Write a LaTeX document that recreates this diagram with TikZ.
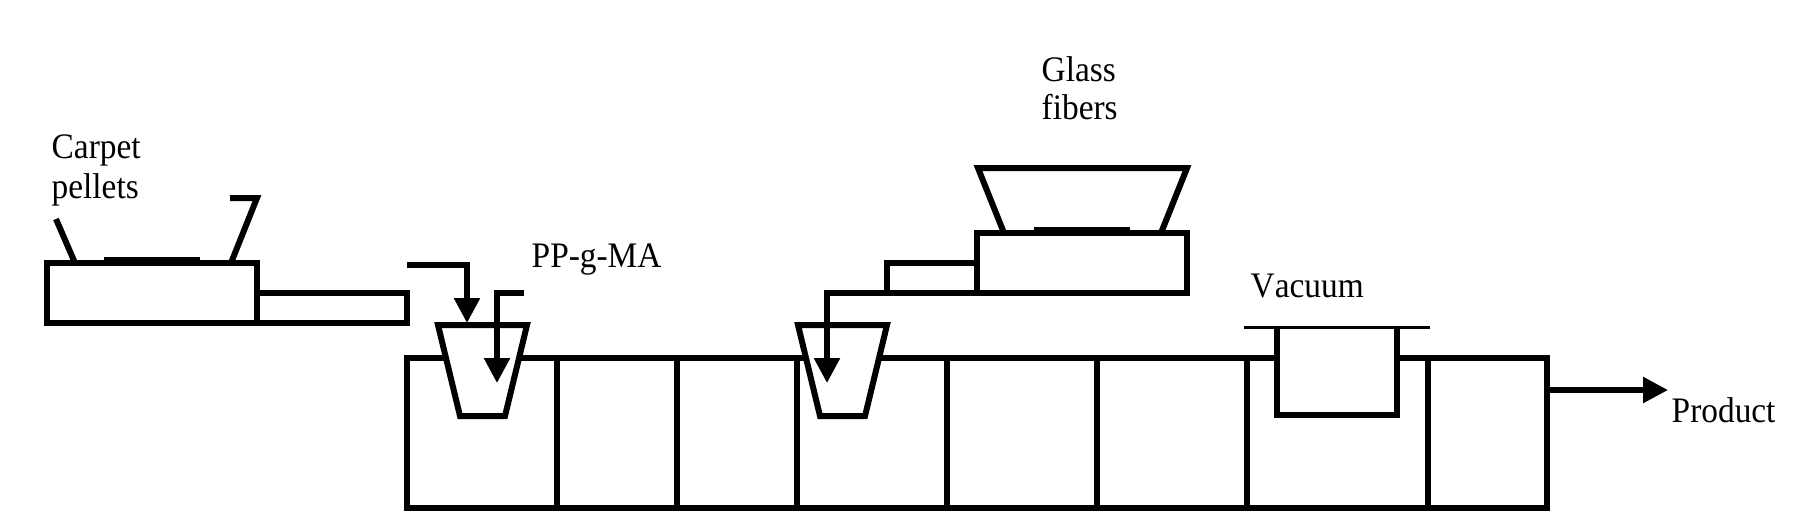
\documentclass[tikz,border=0pt]{standalone}
\usepackage{fontspec}
\setmainfont[FakeStretch=0.93,Kerning=Off]{Liberation Serif}
\usetikzlibrary{arrows.meta}
\tikzset{
  wall/.style={line width=0.6mm,line join=miter},
  feed/.style={line width=0.55mm,-{Triangle[length=2.5mm,width=2.5mm]}},
  lbl/.style={inner sep=0pt,anchor=base west,font=\fontsize{10.2pt}{12pt}\selectfont}
}
\begin{document}
\begin{tikzpicture}[x=0.01cm,y=-0.01cm]
  \useasboundingbox (0,0) rectangle (1795,529);
  % extruder
  \draw[wall] (407,358) rectangle (1547,508);
  \foreach \x in {557,677,797,947,1097,1247,1428}
    \draw[wall] (\x,358) -- (\x,508);
  % side feeders
  \draw[wall,fill=white] (438,325) -- (527,325) -- (505,416) -- (460,416) -- cycle;
  \draw[wall,fill=white] (798,325) -- (887,325) -- (865,416) -- (820,416) -- cycle;
  % vacuum port
  \draw[line width=0.3mm] (1244,327) -- (1430,327);
  \fill[white] (1277,340) rectangle (1397,415);
  \draw[line width=0.65mm] (1277,327) -- (1277,415) -- (1397,415) -- (1397,327);
  % carpet feeder
  \draw[wall] (47,263) rectangle (257,323);
  \draw[wall] (257,293) -- (407,293) -- (407,323) -- (257,323);
  \draw[wall] (104,260) -- (200,260);
  \draw[wall] (56,219) -- (75,263);
  \draw[wall] (230,198) -- (257,198) -- (231,263);
  % glass feeder
  \draw[wall] (977,233) rectangle (1187,293);
  \draw[wall] (977,263) -- (887,263) -- (887,293);
  \draw[wall] (1034,230) -- (1130,230);
  \draw[wall] (1004,233) -- (978,168) -- (1187,168) -- (1161,233);
  % streams
  \coordinate (carpetout) at (407,265);
  \coordinate (carpetin) at (467,323);
  \coordinate (maout) at (524,293);
  \coordinate (main) at (497,383);
  \coordinate (glassout) at (977,293);
  \coordinate (glassin) at (827,383);
  \coordinate (prodout) at (1547,390);
  \coordinate (prodend) at (1668,390);
  \draw[feed] (carpetout) -| (carpetin);
  \draw[feed] (maout) -| (main);
  \draw[feed] (glassout) -| (glassin);
  \draw[feed] (prodout) -- (prodend);
  % labels
  \node[lbl] (carpet) at (51,158) {Carpet};
  \node[lbl] (pellets) at (51,198) {pellets};
  \node[lbl] (ppgma) at (531,267) {PP-g-MA};
  \node[lbl] (glass) at (1041,81) {Glass};
  \node[lbl] (fibers) at (1041,119) {fibers};
  \node[lbl] (vacuum) at (1250,297) {Vacuum};
  \node[lbl] (product) at (1671,422) {Product};
\end{tikzpicture}
\end{document}
